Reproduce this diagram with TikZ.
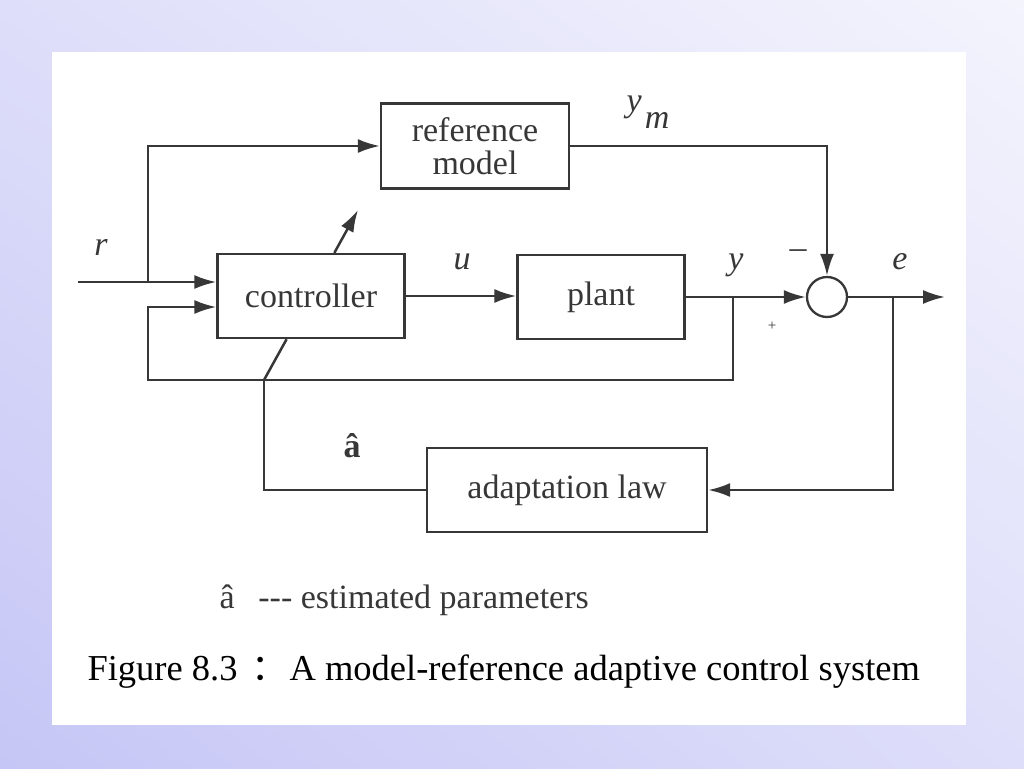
\documentclass[tikz,border=0pt]{standalone}
\usepackage{fontspec}
\setmainfont{Liberation Serif}
\newfontfamily\cjk{Noto Sans CJK SC}
\usetikzlibrary{arrows.meta,shadings}
\definecolor{inkgray}{RGB}{55,55,55}
\definecolor{bgdark}{RGB}{198,198,246}
\definecolor{bgmid}{RGB}{222,222,250}
\definecolor{bglight}{RGB}{244,244,253}
\tikzset{
	blk/.style={draw=inkgray, line width=2.3pt, fill=white, inner sep=0pt, align=center,
		text=inkgray, font=\fontsize{34}{33}\selectfont},
	wire/.style={draw=inkgray, line width=2.5pt},
	sig/.style={wire, -{Latex[length=22pt,width=14pt]}},
	lbl/.style={text=inkgray, font=\fontsize{34}{38}\selectfont\itshape},
	note/.style={text=inkgray, font=\fontsize{34}{38}\selectfont},
}

\begin{document}
\begin{tikzpicture}[x=1pt,y=-1pt]
		%%%%% BACKGROUND %%%%%
		\shade[upper left=bgmid, upper right=bglight, lower left=bgdark, lower right=bgmid] (0,0) rectangle (1024,768);
		\fill[white] (52,52) rectangle (966,725);
		\useasboundingbox (0,0) rectangle (1024,768);
		
		%%%%% BLOCKS %%%%%
		\node[blk, minimum width=188pt, minimum height=85pt] (refm) at (475,146) {reference\\model};
		\node[blk, minimum width=187pt, minimum height=84pt] (ctrl) at (311,296) {controller};
		\node[blk, minimum width=167pt, minimum height=84pt] (plant) at (601,297) {plant};
		\node[blk, minimum width=280pt, minimum height=84pt] (adapt) at (567,490) {adaptation law};
		\node[blk, circle, minimum size=40pt] (sum) at (827,297) {};
		
		\coordinate (rin) at (78,282);
		\coordinate (rsplit) at (148,282);
		\coordinate (fbcorner) at (148,380);
		\coordinate (ysplit) at (733,297);
		\coordinate (adj) at (264,380);
		\coordinate (adjtip) at (358,210);
		\coordinate (esplit) at (893,297);
		\coordinate (eout) at (945,297);
		
		%%%%% SIGNALS %%%%%
		\draw[sig] (rin) -- ([yshift=14pt]ctrl.west);
		\draw[sig] (rsplit) |- (refm.west);
		\draw[sig] (ctrl.east) -- (plant.west |- ctrl.east);
		\draw[sig] (plant.east) -- (sum.west);
		\draw[sig] (refm.east) -| (sum.north);
		\draw[sig] (sum.east) -- (eout);
		\draw[sig] (ysplit) |- (fbcorner) |- ([yshift=-11pt]ctrl.west);
		
		\draw[wire] (adj) -- (intersection of adj--adjtip and ctrl.south west--ctrl.south east);
		\draw[sig] (intersection of adj--adjtip and ctrl.north west--ctrl.north east) -- (adjtip);
		\draw[wire] (adj) |- (adapt.west);
		\draw[sig] (esplit) |- (adapt.east);
		
		%%%%% LABELS %%%%%
		\node[lbl] (rlbl) at (101,247) {r};
		\node[lbl] (ulbl) at (462,262) {u};
		\node[lbl] (ylbl) at (736,265) {y};
		\node[lbl] (elbl) at (900,262) {e};
		\node[lbl] (ymlbl) at (648,112) {y\hspace{3pt}\raisebox{-0.5em}{m}};
		\node[note] (minus) at (798,254) {\textendash};
		\node[text=inkgray, font=\fontsize{15}{16}\selectfont] (plus) at (772,326) {+};
		\node[note] (ahat) at (352,446) {\textbf{â}};
		
		\node[note, anchor=west] (legend) at (216,600) {â\hspace{0.7em}-{}-{}- estimated parameters};
		\node[anchor=west, font=\fontsize{36.5}{40}\selectfont] (caption) at (84,672)
			{Figure 8.3\hspace{14pt}\makebox[38pt][l]{\cjk ：}A model-reference adaptive control system};
	\end{tikzpicture}
\end{document}
